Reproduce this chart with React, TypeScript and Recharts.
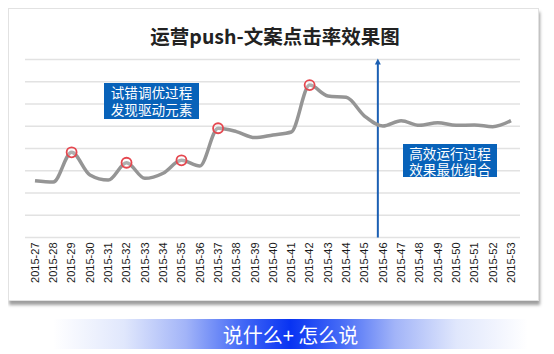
import React from 'react';
import { LineChart, Line, XAxis, YAxis, CartesianGrid, ReferenceLine } from 'recharts';

const weeks = [
  '2015-27', '2015-28', '2015-29', '2015-30', '2015-31', '2015-32', '2015-33', '2015-34', '2015-35',
  '2015-36', '2015-37', '2015-38', '2015-39', '2015-40', '2015-41', '2015-42', '2015-43', '2015-44',
  '2015-45', '2015-46', '2015-47', '2015-48', '2015-49', '2015-50', '2015-51', '2015-52', '2015-53',
];
const clickRate = [
  2.55, 2.49, 3.83, 2.81, 2.58, 3.36, 2.66, 2.89, 3.47,
  3.21, 4.91, 4.76, 4.49, 4.61, 4.74, 6.85, 6.36, 6.3,
  5.46, 5.01, 5.25, 5.04, 5.16, 5.04, 5.06, 4.98, 5.25,
];
const highlighted = ['2015-29', '2015-32', '2015-35', '2015-37', '2015-42'];
const splitWeek = '2015-46';
const yTicks = [0, 1, 2, 3, 4, 5, 6, 7, 8];
const leftNote = ['试错调优过程', '发现驱动元素'];
const rightNote = ['高效运行过程', '效果最优组合'];

const data = weeks.map((week, i) => ({ week, rate: clickRate[i] }));

const CJK = '"Noto Sans CJK SC", "Noto Sans", sans-serif';

const WeekTick = (props: any) => {
  const { x, y, payload } = props;
  return (
    <g transform={`translate(${x},${y})`}>
      <text
        transform="rotate(-90)"
        textAnchor="end"
        dy="0.35em"
        fontSize={11}
        fontFamily='"Liberation Sans", Arial, sans-serif'
        fill="#1a1a1a"
      >
        {payload.value}
      </text>
    </g>
  );
};

const RingDot = (props: any) => {
  const { cx, cy, payload, index } = props;
  if (!highlighted.includes(payload.week)) return <g key={`d-${index}`} />;
  return (
    <circle key={`d-${index}`} cx={cx} cy={cy} r={5} fill="rgba(255,255,255,0.25)" stroke="#e5474f" strokeWidth={1.8} />
  );
};

const ArrowLine = (props: any) => {
  const { x1, y1, y2 } = props;
  const x = x1 - 5;
  const top = Math.min(y1, y2);
  const bottom = Math.max(y1, y2);
  return (
    <g>
      <line x1={x} x2={x} y1={top + 3} y2={bottom} stroke="#1b5fb3" strokeWidth={2} />
      <path d={`M${x - 3},${top + 5} L${x},${top - 1} L${x + 3},${top + 5} Z`} fill="#1b5fb3" />
    </g>
  );
};

const Note = ({ lines, left, top, width, height, gap }: any) => (
  <div
    style={{
      position: 'absolute',
      left,
      top,
      width,
      height,
      background: '#0862b9',
      color: '#fff',
      fontFamily: CJK,
      fontSize: 13.6,
      textAlign: 'center',
      boxSizing: 'border-box',
      paddingTop: 1,
    }}
  >
    {lines.map((t: string) => (
      <div key={t} style={{ height: gap, lineHeight: `${gap}px`, overflow: 'visible' }}>
        {t}
      </div>
    ))}
  </div>
);

export default function App() {
  return (
    <div style={{ position: 'relative', width: 546, height: 346 }}>
      <div
        style={{
          position: 'absolute',
          left: 0,
          top: 0,
          width: 531,
          height: 293,
          boxSizing: 'border-box',
          background: '#fff',
          border: '1px solid #e2e2e2',
          boxShadow: '1px 4px 3px rgba(0,0,0,0.38)',
        }}
      />
      <div
        style={{
          position: 'absolute',
          left: 0,
          top: 15,
          width: 534,
          textAlign: 'center',
          fontFamily: CJK,
          fontWeight: 'bold',
          fontSize: 19.5,
          lineHeight: '25px',
          color: '#222',
        }}
      >
        运营push-文案点击率效果图
      </div>
      <div style={{ position: 'absolute', left: 0, top: 0 }}>
        <LineChart width={531} height={293} data={data} margin={{ top: 51.5, right: 19, bottom: 13.5, left: 17 }}>
          <CartesianGrid vertical={false} stroke="#e2e2e2" strokeWidth={1.5} />
          <XAxis
            dataKey="week"
            interval={0}
            height={50}
            axisLine={false}
            tickLine={false}
            tickSize={0}
            tickMargin={5}
            padding={{ left: 10, right: 9 }}
            tick={<WeekTick />}
          />
          <YAxis hide type="number" domain={[0, 8]} ticks={yTicks} interval={0} />
          <ReferenceLine x={splitWeek} shape={<ArrowLine />} />
          <Line
            type="monotone"
            dataKey="rate"
            stroke="#959595"
            strokeWidth={3.5}
            dot={RingDot}
            activeDot={false}
            isAnimationActive={false}
          />
        </LineChart>
      </div>
      <Note lines={leftNote} left={96} top={75} width={95} height={36} gap={17} />
      <Note lines={rightNote} left={395} top={136} width={94} height={33} gap={16} />
      <div
        style={{
          position: 'absolute',
          left: 45,
          top: 311,
          width: 475,
          height: 30,
          background:
            'linear-gradient(to right, #ffffff 0%, #e0e7fc 15%, #a2b4f8 28%, #4268f6 40%, #0833f2 50%, #4268f6 60%, #a2b4f8 72%, #e0e7fc 85%, #ffffff 100%)',
          color: '#fff',
          fontFamily: CJK,
          fontSize: 20,
          lineHeight: '32px',
          textAlign: 'center',
        }}
      >
        说什么+ 怎么说
      </div>
    </div>
  );
}
